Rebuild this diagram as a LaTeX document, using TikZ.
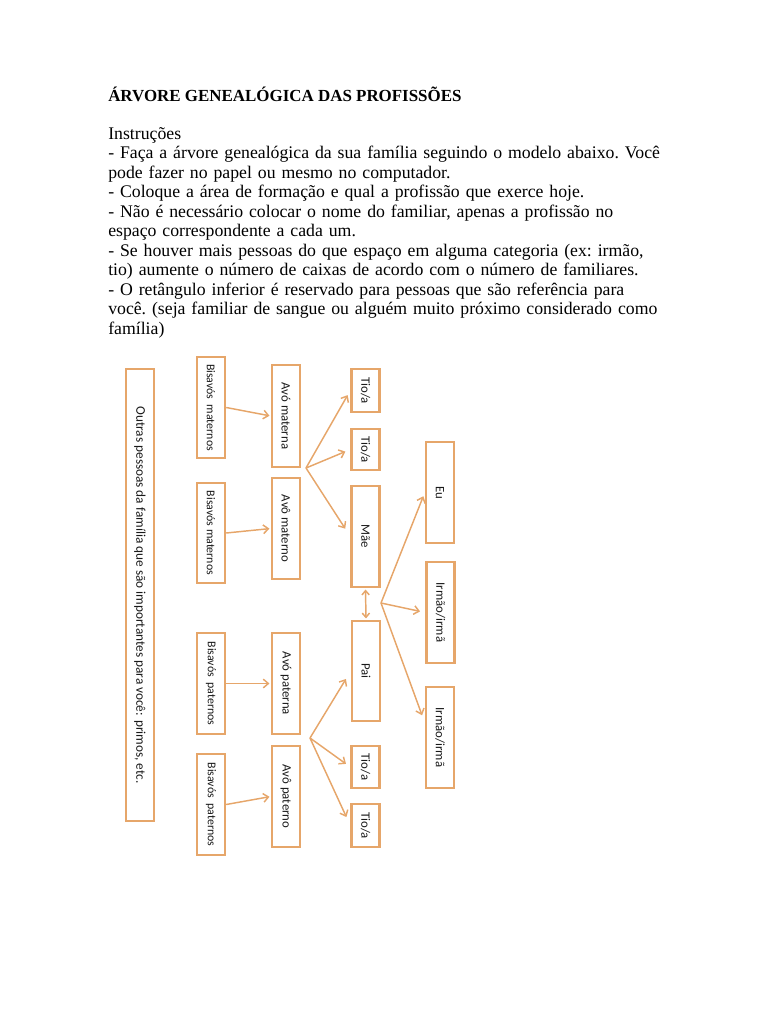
\documentclass[tikz,border=0pt]{standalone}
\usepackage{fontspec}
\setmainfont{Liberation Serif}
\newfontfamily\caixafont{Carlito}
\usetikzlibrary{arrows.meta}
\definecolor{laranja}{RGB}{230,166,106}
\def\px{0.75pt}
\newcommand{\vtexto}[1]{\rotatebox{-90}{#1}}
\tikzset{
  caixa/.style={draw=laranja, line width=1.8pt, minimum width=28*\px, inner sep=0pt,
    text=black!90, font=\caixafont\fontsize{9.6}{11}\selectfont},
  pequena/.style={font=\caixafont\fontsize{8.9}{10}\selectfont},
  seta/.style={draw=laranja, line width=1.1pt, -{Straight Barb[length=3.8pt,width=6.5pt]}, shorten >=1pt},
  setadupla/.style={seta, {Straight Barb[length=3.2pt,width=5.5pt]}-{Straight Barb[length=3.2pt,width=5.5pt]}, shorten <=1pt},
}
\begin{document}
\begin{tikzpicture}[x=0.75pt, y=-0.75pt]
    \useasboundingbox (0,0) rectangle (768,1024);

    % Titulo e instrucoes
    \node[anchor=base west, inner sep=0, font=\bfseries\fontsize{12.7}{14.66}\selectfont] (titulo) at (108,102)
        {ÁRVORE GENEALÓGICA DAS PROFISSÕES};
    \node[anchor=base west, inner sep=0, text width=640*\px, align=left,
          font=\fontsize{13.3}{14.66}\selectfont\frenchspacing] (instr) at (108,139)
        {Instruções\\
         - Faça a árvore genealógica da sua família seguindo o modelo abaixo. Você\\
         pode fazer no papel ou mesmo no computador.\\
         - Coloque a área de formação e qual a profissão que exerce hoje.\\
         - Não é necessário colocar o nome do familiar, apenas a profissão no\\
         espaço correspondente a cada um.\\
         - Se houver mais pessoas do que espaço em alguma categoria (ex: irmão,\\
         tio) aumente o número de caixas de acordo com o número de familiares.\\
         - O retângulo inferior é reservado para pessoas que são referência para\\
         você. (seja familiar de sangue ou alguém muito próximo considerado como\\
         família)};

    % Caixa grande
    \node[caixa, minimum height=452*\px, font=\caixafont\fontsize{9.95}{11}\selectfont] (outros) at (140,595)
        {\vtexto{Outras pessoas da família que são importantes para você: primos, etc.}};

    % Lado materno
    \node[caixa, pequena, minimum height=101*\px] (bm1) at (211,407.5) {\vtexto{Bisavós\ \ maternos}};
    \node[caixa, pequena, minimum height=100*\px] (bm2) at (211,533) {\vtexto{Bisavós maternos}};
    \node[caixa, minimum height=102*\px] (avm) at (286,416) {\vtexto{Avó materna}};
    \node[caixa, minimum height=101*\px] (avom) at (286,528.5) {\vtexto{Avô materno}};
    \node[caixa, minimum height=43*\px] (tio1) at (365.5,390.5) {\vtexto{Tio/a}};
    \node[caixa, minimum height=41*\px] (tio2) at (365.5,449.5) {\vtexto{Tio/a}};
    \node[caixa, minimum height=101*\px] (mae) at (365.5,536.5) {\vtexto{Mãe}};

    % Lado paterno
    \node[caixa, pequena, minimum height=101*\px] (bp1) at (211,683.5) {\vtexto{Bisavós\ \ paternos}};
    \node[caixa, pequena, minimum height=101*\px] (bp2) at (211,804.5) {\vtexto{Bisavós\ \ paternos}};
    \node[caixa, minimum height=101*\px] (avp) at (286,683.5) {\vtexto{Avó paterna}};
    \node[caixa, minimum height=101*\px] (avop) at (286,796.5) {\vtexto{Avô paterno}};
    \node[caixa, minimum height=100*\px] (pai) at (366,671) {\vtexto{Pai}};
    \node[caixa, minimum height=42*\px] (tio3) at (365.5,767) {\vtexto{Tio/a}};
    \node[caixa, minimum height=43*\px] (tio4) at (365.5,825.5) {\vtexto{Tio/a}};

    % Eu e irmaos
    \node[caixa, minimum height=101*\px] (eu) at (440,492.5) {\vtexto{Eu}};
    \node[caixa, minimum height=101*\px] (ir1) at (440.5,612.5) {\vtexto{Irmão/irmã}};
    \node[caixa, minimum height=101*\px] (ir2) at (440,737.5) {\vtexto{Irmão/irmã}};

    % Setas
    \coordinate (forkm) at (306,468);
    \coordinate (forkp) at (310,738);
    \coordinate (forki) at (381,603);

    \draw[seta] (bm1.east) -- (avm.west);
    \draw[seta] (bm2.east) -- (avom.west);
    \draw[seta] (bp1.east) -- (avp.west);
    \draw[seta] (bp2.east) -- (avop.west);

    \draw[seta, shorten >=4pt] (forkm) -- (tio1.west);
    \draw[seta, shorten >=4pt] (forkm) -- (tio2.west);
    \draw[seta, shorten >=7pt] (forkm) -- (mae.west);

    \draw[seta, shorten >=7pt] (forkp) -- (pai.west);
    \draw[seta, shorten >=4pt] (forkp) -- (tio3.west);
    \draw[seta, shorten >=7pt] (forkp) -- (tio4.west);

    \draw[setadupla] (mae.south) -- (pai.north);

    \draw[seta, shorten >=3pt] (forki) -- (eu.west);
    \draw[seta, shorten >=4pt] (forki) -- (ir1.west);
    \draw[seta, shorten >=6pt] (forki) -- (ir2.136);
\end{tikzpicture}
\end{document}
